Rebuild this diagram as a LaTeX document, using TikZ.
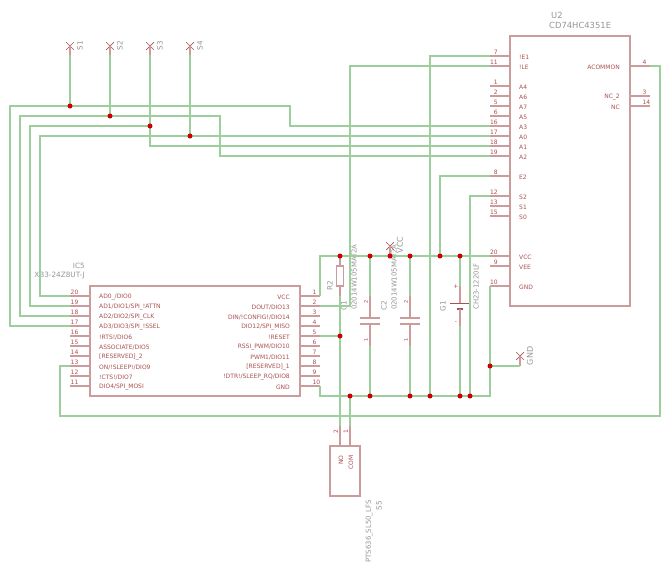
\documentclass[tikz,border=0pt]{standalone}
\usepackage{fontspec}
\setmainfont{DejaVu Sans}
\usetikzlibrary{shapes.misc}
\definecolor{wirecol}{HTML}{9CCF9C}
\definecolor{pincol}{HTML}{CC9C9C}
\definecolor{txtcol}{HTML}{A85050}
\definecolor{namecol}{HTML}{959595}
\definecolor{junccol}{HTML}{CC0000}
\tikzset{
  wire/.style={draw=wirecol,line width=1.2pt},
  pinline/.style={draw=pincol,line width=1.3pt},
  chip/.style={draw=pincol,line width=1.3pt,inner sep=0pt},
  junc/.style={circle,fill=junccol,inner sep=0pt,minimum size=5pt},
  pintxt/.style={text=txtcol,font=\fontsize{6}{7}\selectfont,inner sep=0pt},
  nametxt/.style={text=namecol,font=\fontsize{7.3}{8}\selectfont,inner sep=0pt},
  valtxt/.style={nametxt,rotate=90,font=\fontsize{6.9}{8}\selectfont},
  xmark/.style={cross out,draw=txtcol,line width=.7pt,inner sep=0pt,minimum size=7pt},
}
\begin{document}
\begin{tikzpicture}[x=1pt,y=-1pt]
\useasboundingbox (0,0) rectangle (670,574);

% chips
\node[chip,minimum width=210pt,minimum height=110pt] (IC5) at (195,341) {};
\node[chip,minimum width=120pt,minimum height=270pt] (U2) at (570,171) {};
\node[chip,minimum width=30pt,minimum height=50pt] (S5) at (345,471) {};
\node[pinline,minimum width=6.5pt,minimum height=20pt,inner sep=0pt] (R2) at (340,276) {};

\node[nametxt,anchor=east] (ic5name) at (85,266) {IC5};
\node[nametxt,anchor=east] (ic5val) at (85,275.5) {XB3-24Z8UT-J};
\node[nametxt,anchor=west,font=\fontsize{8.4}{9}\selectfont] (u2name) at (551,15) {U2};
\node[nametxt,anchor=west,font=\fontsize{8.4}{9}\selectfont] (u2val) at (549,25) {CD74HC4351E};

% IC5 pins
\foreach \n/\y/\t in {20/296/{AD0\_/DIO0},19/306/{AD1/DIO1/SPI\_!ATTN},18/316/{AD2/DIO2/SPI\_CLK},
  17/326/{AD3/DIO3/SPI\_!SSEL},16/336/{!RTS!/DIO6},15/346/{ASSOCIATE/DIO5},14/356/{[RESERVED]\_2},
  13/366/{ON/!SLEEP!/DIO9},12/376/{!CTS!/DIO7},11/386/{DIO4/SPI\_MOSI}} {
  \coordinate (icp\n) at (70,\y);
  \draw[pinline] (icp\n) -- (90,\y);
  \node[pintxt,anchor=west] (icn\n) at (70.5,\y-4) {\n};
  \node[pintxt,anchor=west] (icl\n) at (99,\y+1.2) {\t};
}
\foreach \n/\y/\t in {1/296/VCC,2/306/{DOUT/DIO13},3/316/{DIN/!CONFIG!/DIO14},4/326/{DIO12/SPI\_MISO},
  5/336/!RESET,6/346/{RSSI\_PWM/DIO10},7/356/{PWM1/DIO11},8/366/{[RESERVED]\_1},
  9/376/{!DTR!/SLEEP\_RQ/DIO8},10/386/GND} {
  \coordinate (icp\n) at (320,\y);
  \draw[pinline] (300,\y) -- (icp\n);
  \node[pintxt,anchor=west] (icn\n) at (312.3,\y-4) {\n};
  \node[pintxt,anchor=east] (icl\n) at (290,\y+1.2) {\t};
}

% U2 pins
\foreach \n/\y/\t in {7/56/!E1,11/66/!LE,1/86/A4,2/96/A6,5/106/A7,6/116/A5,16/126/A3,17/136/A0,18/146/A1,
  19/156/A2,8/176/E2,12/196/S2,13/206/S1,15/216/S0,20/256/VCC,9/266/VEE,10/286/GND} {
  \coordinate (up\n) at (490,\y);
  \draw[pinline] (up\n) -- (510,\y);
  \node[pintxt,anchor=east] (un\n) at (498,\y-4) {\n};
  \node[pintxt,anchor=west] (ul\n) at (519,\y+1.2) {\t};
}
\foreach \n/\y/\t in {4/66/ACOMMON,3/96/NC\_2,14/106/NC} {
  \coordinate (up\n) at (650,\y);
  \draw[pinline] (630,\y) -- (up\n);
  \node[pintxt,anchor=west] (un\n) at (642.3,\y-4) {\n};
  \node[pintxt,anchor=east] (ul\n) at (620,\y+1.2) {\t};
}

% S5 pins
\coordinate (sw2) at (340,426);
\coordinate (sw1) at (350,426);
\draw[pinline] (sw2) -- (340,446);
\draw[pinline] (sw1) -- (350,446);
\node[pintxt,rotate=90] (swn2) at (336,432) {2};
\node[pintxt,rotate=90] (swn1) at (346,432) {1};
\node[pintxt,rotate=90] (swno) at (341,460) {NO};
\node[pintxt,rotate=90] (swcom) at (351,462.5) {COM};
\node[valtxt] (s5val) at (369,531.5) {PTS636\_SL50\_LFS};
\node[nametxt,rotate=90] (s5name) at (379,505.5) {S5};

% R2
\coordinate (r2a) at (340,256);
\coordinate (r2b) at (340,296);
\draw[pinline] (r2a) -- (R2.north);
\draw[pinline] (R2.south) -- (r2b);
\node[nametxt,rotate=90] (r2name) at (330,286) {R2};

% C1, C2
\foreach \c/\x/\k in {1/370/C1,2/410/C2} {
  \coordinate (c\c a) at (\x,296);
  \coordinate (c\c b) at (\x,346);
  \draw[pinline] (c\c a) -- (\x,318) (\x-10,318) -- (\x+10,318);
  \draw[pinline] (\x-10,324) -- (\x+10,324) (\x,324) -- (c\c b);
  \node[pintxt,rotate=90,font=\fontsize{5}{6}\selectfont] (c\c n2) at (\x-4,302) {2};
  \node[pintxt,rotate=90,font=\fontsize{5}{6}\selectfont] (c\c n1) at (\x-4,340) {1};
  \node[nametxt,rotate=90] (c\c name) at (\x-26,306) {\k};
  \node[valtxt,anchor=west] (c\c val) at (\x-16,310) {02014W105MAT2A};
}

% G1
\coordinate (g1a) at (460,286);
\coordinate (g1b) at (460,326);
\draw[pinline] (g1a) -- (460,303);
\draw[draw=txtcol,line width=.9pt] (450,303) -- (470,303);
\draw[draw=txtcol,line width=1.5pt] (457,309) -- (463,309);
\draw[pinline] (460,309) -- (g1b);
\node[pintxt] (g1plus) at (456,287) {+};
\node[pintxt] (g1minus) at (456,323) {-};
\node[nametxt,rotate=90] (g1name) at (443,306) {G1};
\node[valtxt,anchor=west] (g1val) at (476,310) {CH23-1220LF};

% supply marks
\foreach \n/\x/\t in {1/70/S1,2/110/S2,3/150/S3,4/190/S4} {
  \node[xmark] (s\n) at (\x,46) {};
  \coordinate (s\n p) at (\x,55);
  \draw[pinline] (s\n.center) -- (s\n p);
  \node[nametxt,rotate=90] (s\n name) at (\x+10,45.5) {\t};
}
\node[xmark] (vcc) at (390,246) {};
\coordinate (vccp) at (390,256);
\draw[pinline] (vcc.center) -- (vccp);
\node[nametxt,rotate=90,font=\fontsize{8}{9}\selectfont] (vccname) at (400,245) {VCC};
\node[xmark] (gnd) at (520,356) {};
\coordinate (gndp) at (520,366);
\draw[pinline] (gnd.center) -- (gndp);
\node[nametxt,rotate=90,font=\fontsize{8}{9}\selectfont] (gndname) at (530,356) {GND};

% junctions
\foreach \n/\x/\y in {a/70/106,b/110/116,c/150/126,d/190/136,
  e/340/256,f/370/256,g/390/256,h/410/256,i/440/256,j/460/256,
  k/340/336,m/350/396,n/370/396,o/410/396,p/430/396,q/460/396,r/470/396,t/490/366}
  \coordinate (j\n) at (\x,\y);

% wires
\draw[wire] (s1p) -- (ja);
\draw[wire] (s2p) -- (jb);
\draw[wire] (s3p) -- (jc);
\draw[wire] (s4p) -- (jd);
\draw[wire] (icp17) -| (10,106) -| (290,126) -- (up16);
\draw[wire] (icp18) -| (20,116) -| (220,156) -- (up19);
\draw[wire] (icp19) -| (30,126) -- (jc) |- (up18);
\draw[wire] (icp20) -| (40,136) -- (jd) -- (up17);
\draw[wire] (icp13) -| (60,416) -| (660,66) -- (up4);
\draw[wire] (up7) -| (jp);
\draw[wire] (up11) -| (350,306) -- (icp2);
\draw[wire] (up8) -| (ji);
\draw[wire] (up12) -| (jr);
\draw[wire] (icp1) |- (je) -- (jf) -- (jg) -- (jh) -- (ji) -- (jj) -- (up20);
\draw[wire] (icp10) |- (jm) -- (jn) -- (jo) -- (jp) -- (jq) -- (jr) -| (jt) -- (up10);
\draw[wire] (jt) -| (gndp);
\draw[wire] (jf) -- (c1a);
\draw[wire] (jh) -- (c2a);
\draw[wire] (c1b) -- (jn);
\draw[wire] (c2b) -- (jo);
\draw[wire] (jj) -- (g1a);
\draw[wire] (g1b) -- (jq);
\draw[wire] (r2b) -- (sw2);
\draw[wire] (icp5) -- (jk);
\draw[wire] (jm) -- (sw1);

\foreach \n in {a,b,c,d,e,f,g,h,i,j,k,m,n,o,p,q,r,t}
  \node[junc] (dot\n) at (j\n) {};
\end{tikzpicture}
\end{document}
